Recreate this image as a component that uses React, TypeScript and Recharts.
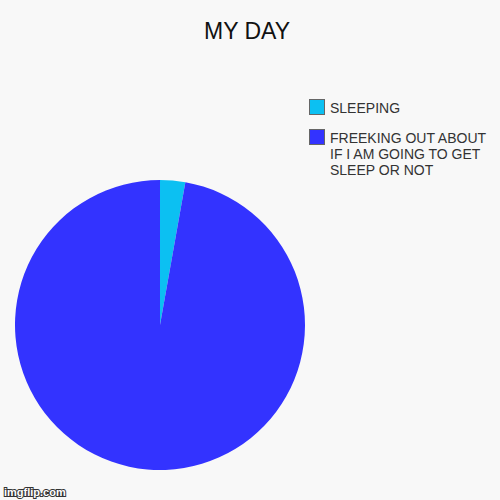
import React from "react";
import { PieChart, Pie, Cell, Customized } from "recharts";

const categories = ["SLEEPING", "FREEKING OUT ABOUT IF I AM GOING TO GET SLEEP OR NOT"];
const legendLines = [["SLEEPING"], ["FREEKING OUT ABOUT", "IF I AM GOING TO GET", "SLEEP OR NOT"]];
const values = [2.8, 97.2];
const colors = ["#0cc0f2", "#3333ff"];
const title = "MY DAY";

const data = categories.map((name, i) => ({ name, value: values[i] }));

const LegendSvg = () => {
  let y = 99;
  return (
    <g>
      {legendLines.map((lines, i) => {
        const top = y;
        y += 30;
        return (
          <g key={i}>
            <rect x={309.5} y={top + 0.5} width={15} height={15} fill={colors[i]} stroke="#666" strokeWidth={1} />
            {lines.map((t, j) => (
              <text key={j} x={330} y={top + 14 + j * 16} fontSize={14} fill="#333" fontFamily="Liberation Sans, Arial, sans-serif">
                {t}
              </text>
            ))}
          </g>
        );
      })}
    </g>
  );
};

export default function App() {
  return (
    <div style={{ position: "absolute", left: 0, top: 0, width: 500, height: 500, background: "#f8f8f8" }}>
      <PieChart width={500} height={500} margin={{ top: 0, right: 0, bottom: 0, left: 0 }}>
        <text x={247} y={39} textAnchor="middle" fontSize={23} fill="#111" fontFamily="Liberation Sans, Arial, sans-serif">
          {title}
        </text>
        <Pie
          data={data}
          dataKey="value"
          nameKey="name"
          cx={160}
          cy={325}
          outerRadius={145}
          startAngle={90}
          endAngle={-270}
          stroke="none"
          isAnimationActive={false}
        >
          {data.map((d, i) => (
            <Cell key={d.name} fill={colors[i]} />
          ))}
        </Pie>
        <Customized component={LegendSvg} />
        <text x={4} y={496} fontSize={11} fontWeight="bold" fill="#fff" stroke="#333" strokeWidth={2} paintOrder="stroke" fontFamily="Liberation Sans, Arial, sans-serif">
          imgflip.com
        </text>
      </PieChart>
    </div>
  );
}
